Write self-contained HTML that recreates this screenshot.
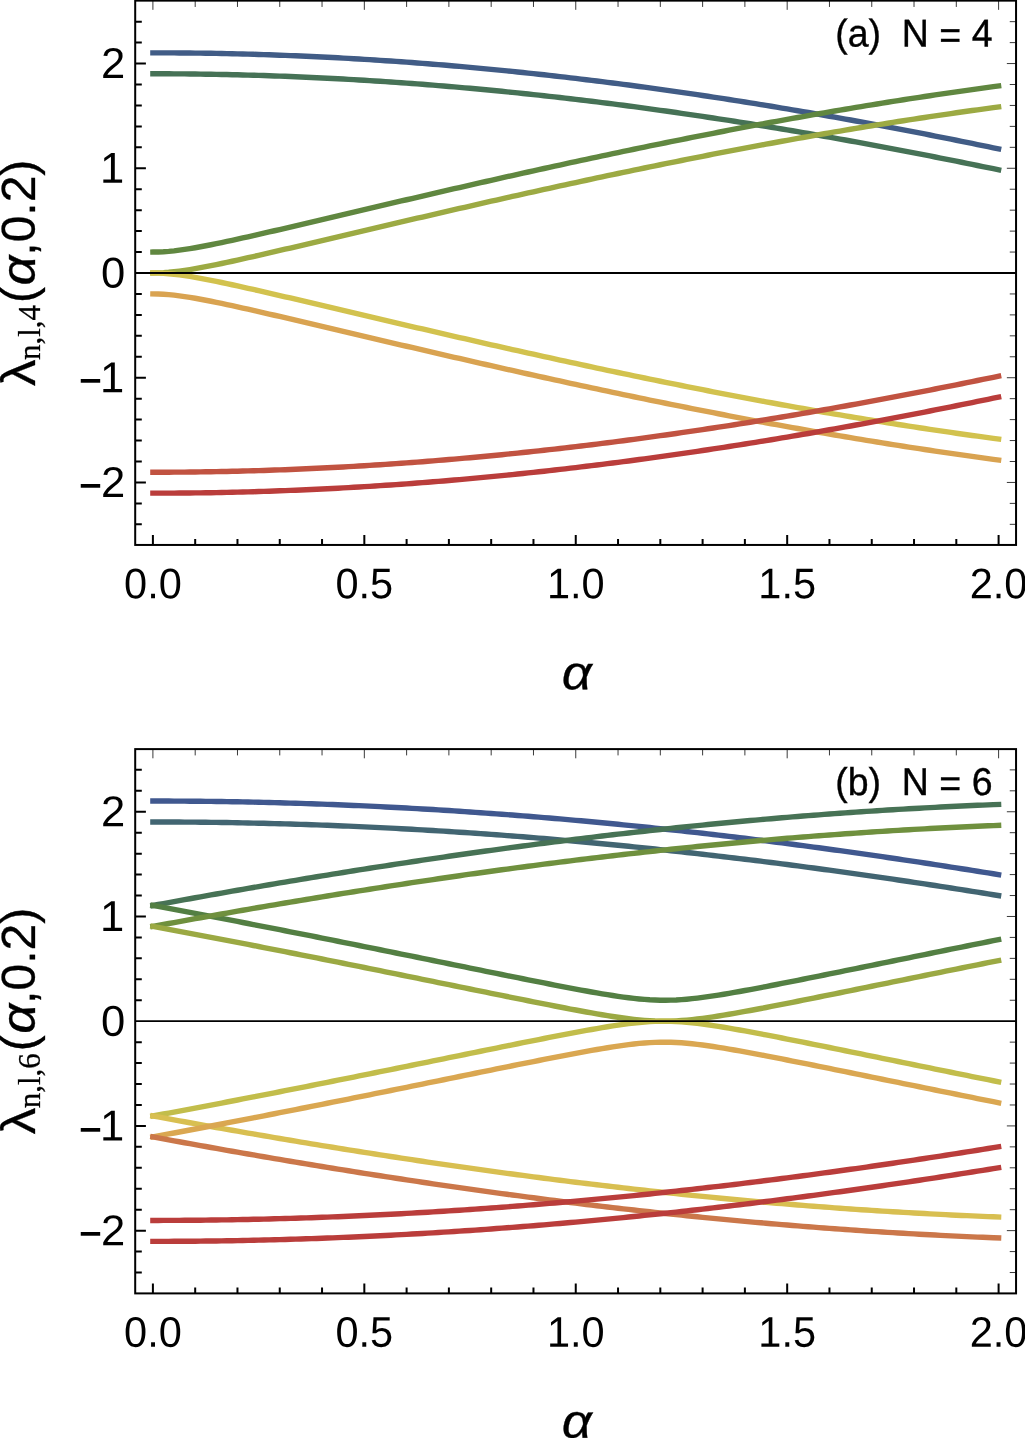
<!DOCTYPE html>
<html><head><meta charset="utf-8"><title>Eigenvalue spectra</title>
<style>
html,body{margin:0;padding:0;background:#fff}
svg{display:block}
text{font-family:"Liberation Sans",sans-serif;fill:#000}
.tk{font-size:41.5px}
.al{font-size:48px;stroke:#000;stroke-width:0.3px}
.pl{font-size:37.5px;stroke:#000;stroke-width:0.35px}

.sb{stroke:#000;stroke-width:0.25px;font-family:"Liberation Serif",serif;font-size:31px}
</style></head><body>
<svg width="1025" height="1438" viewBox="0 0 1025 1438">
<rect width="1025" height="1438" fill="#fff"/>
<polyline points="152.90,52.83 158.19,52.83 163.47,52.84 168.76,52.86 174.04,52.89 179.33,52.93 184.61,52.97 189.90,53.03 195.19,53.09 200.47,53.16 205.76,53.23 211.04,53.32 216.33,53.41 221.61,53.52 226.90,53.63 232.18,53.74 237.47,53.87 242.76,54.01 248.04,54.15 253.33,54.30 258.61,54.46 263.90,54.63 269.18,54.80 274.47,54.98 279.75,55.18 285.04,55.37 290.33,55.58 295.61,55.80 300.90,56.02 306.18,56.25 311.47,56.49 316.75,56.74 322.04,57.00 327.33,57.26 332.61,57.53 337.90,57.81 343.18,58.10 348.47,58.39 353.75,58.70 359.04,59.01 364.33,59.33 369.61,59.66 374.90,59.99 380.18,60.33 385.47,60.69 390.75,61.04 396.04,61.41 401.32,61.79 406.61,62.17 411.90,62.56 417.18,62.96 422.47,63.36 427.75,63.78 433.04,64.20 438.32,64.63 443.61,65.06 448.89,65.51 454.18,65.96 459.47,66.42 464.75,66.89 470.04,67.36 475.32,67.84 480.61,68.33 485.89,68.83 491.18,69.34 496.47,69.85 501.75,70.37 507.04,70.90 512.32,71.43 517.61,71.98 522.89,72.53 528.18,73.08 533.47,73.65 538.75,74.22 544.04,74.80 549.32,75.39 554.61,75.98 559.89,76.58 565.18,77.19 570.46,77.81 575.75,78.43 581.04,79.06 586.32,79.70 591.61,80.34 596.89,80.99 602.18,81.65 607.46,82.32 612.75,82.99 618.04,83.67 623.32,84.35 628.61,85.05 633.89,85.75 639.18,86.46 644.46,87.17 649.75,87.89 655.03,88.62 660.32,89.35 665.61,90.09 670.89,90.84 676.18,91.60 681.46,92.36 686.75,93.13 692.03,93.90 697.32,94.68 702.61,95.47 707.89,96.26 713.18,97.06 718.46,97.87 723.75,98.68 729.03,99.50 734.32,100.33 739.60,101.16 744.89,102.00 750.18,102.84 755.46,103.69 760.75,104.55 766.03,105.41 771.32,106.28 776.60,107.16 781.89,108.04 787.18,108.93 792.46,109.82 797.75,110.72 803.03,111.62 808.32,112.53 813.60,113.45 818.89,114.37 824.17,115.30 829.46,116.23 834.75,117.17 840.03,118.12 845.32,119.07 850.60,120.03 855.89,120.99 861.17,121.95 866.46,122.93 871.75,123.91 877.03,124.89 882.32,125.88 887.60,126.87 892.89,127.87 898.17,128.87 903.46,129.88 908.74,130.90 914.03,131.92 919.32,132.94 924.60,133.97 929.89,135.01 935.17,136.05 940.46,137.09 945.74,138.14 951.03,139.19 956.31,140.25 961.60,141.31 966.89,142.38 972.17,143.45 977.46,144.53 982.74,145.61 988.03,146.70 993.31,147.79 998.60,148.88" fill="none" stroke="#415c86" stroke-width="5.4" stroke-linecap="square" stroke-linejoin="round"/>
<polyline points="152.90,73.77 158.19,73.77 163.47,73.79 168.76,73.81 174.04,73.84 179.33,73.87 184.61,73.92 189.90,73.97 195.19,74.03 200.47,74.10 205.76,74.18 211.04,74.26 216.33,74.36 221.61,74.46 226.90,74.57 232.18,74.69 237.47,74.82 242.76,74.95 248.04,75.09 253.33,75.24 258.61,75.40 263.90,75.57 269.18,75.74 274.47,75.93 279.75,76.12 285.04,76.32 290.33,76.53 295.61,76.74 300.90,76.97 306.18,77.20 311.47,77.44 316.75,77.68 322.04,77.94 327.33,78.20 332.61,78.48 337.90,78.76 343.18,79.04 348.47,79.34 353.75,79.64 359.04,79.95 364.33,80.27 369.61,80.60 374.90,80.94 380.18,81.28 385.47,81.63 390.75,81.99 396.04,82.36 401.32,82.73 406.61,83.11 411.90,83.50 417.18,83.90 422.47,84.31 427.75,84.72 433.04,85.14 438.32,85.57 443.61,86.01 448.89,86.45 454.18,86.90 459.47,87.36 464.75,87.83 470.04,88.31 475.32,88.79 480.61,89.28 485.89,89.78 491.18,90.28 496.47,90.79 501.75,91.31 507.04,91.84 512.32,92.38 517.61,92.92 522.89,93.47 528.18,94.03 533.47,94.59 538.75,95.16 544.04,95.74 549.32,96.33 554.61,96.92 559.89,97.53 565.18,98.13 570.46,98.75 575.75,99.37 581.04,100.00 586.32,100.64 591.61,101.28 596.89,101.94 602.18,102.59 607.46,103.26 612.75,103.93 618.04,104.61 623.32,105.30 628.61,105.99 633.89,106.69 639.18,107.40 644.46,108.11 649.75,108.83 655.03,109.56 660.32,110.30 665.61,111.04 670.89,111.79 676.18,112.54 681.46,113.30 686.75,114.07 692.03,114.84 697.32,115.62 702.61,116.41 707.89,117.21 713.18,118.01 718.46,118.81 723.75,119.63 729.03,120.45 734.32,121.27 739.60,122.10 744.89,122.94 750.18,123.79 755.46,124.64 760.75,125.49 766.03,126.36 771.32,127.23 776.60,128.10 781.89,128.98 787.18,129.87 792.46,130.76 797.75,131.66 803.03,132.57 808.32,133.48 813.60,134.39 818.89,135.32 824.17,136.24 829.46,137.18 834.75,138.12 840.03,139.06 845.32,140.01 850.60,140.97 855.89,141.93 861.17,142.90 866.46,143.87 871.75,144.85 877.03,145.83 882.32,146.82 887.60,147.81 892.89,148.81 898.17,149.82 903.46,150.83 908.74,151.84 914.03,152.86 919.32,153.89 924.60,154.92 929.89,155.95 935.17,156.99 940.46,158.03 945.74,159.08 951.03,160.14 956.31,161.20 961.60,162.26 966.89,163.33 972.17,164.40 977.46,165.48 982.74,166.56 988.03,167.64 993.31,168.73 998.60,169.83" fill="none" stroke="#467256" stroke-width="5.4" stroke-linecap="square" stroke-linejoin="round"/>
<polyline points="152.90,252.06 158.19,251.97 163.47,251.73 168.76,251.34 174.04,250.82 179.33,250.18 184.61,249.44 189.90,248.62 195.19,247.72 200.47,246.77 205.76,245.77 211.04,244.73 216.33,243.66 221.61,242.56 226.90,241.44 232.18,240.30 237.47,239.14 242.76,237.97 248.04,236.79 253.33,235.60 258.61,234.39 263.90,233.19 269.18,231.97 274.47,230.75 279.75,229.52 285.04,228.29 290.33,227.06 295.61,225.83 300.90,224.59 306.18,223.35 311.47,222.11 316.75,220.86 322.04,219.62 327.33,218.38 332.61,217.13 337.90,215.89 343.18,214.64 348.47,213.40 353.75,212.15 359.04,210.91 364.33,209.66 369.61,208.42 374.90,207.18 380.18,205.94 385.47,204.70 390.75,203.46 396.04,202.22 401.32,200.99 406.61,199.75 411.90,198.52 417.18,197.29 422.47,196.06 427.75,194.84 433.04,193.61 438.32,192.39 443.61,191.17 448.89,189.95 454.18,188.74 459.47,187.52 464.75,186.31 470.04,185.10 475.32,183.90 480.61,182.70 485.89,181.50 491.18,180.30 496.47,179.10 501.75,177.91 507.04,176.72 512.32,175.54 517.61,174.36 522.89,173.18 528.18,172.00 533.47,170.83 538.75,169.66 544.04,168.49 549.32,167.33 554.61,166.17 559.89,165.02 565.18,163.87 570.46,162.72 575.75,161.57 581.04,160.43 586.32,159.29 591.61,158.16 596.89,157.03 602.18,155.91 607.46,154.79 612.75,153.67 618.04,152.56 623.32,151.45 628.61,150.34 633.89,149.24 639.18,148.15 644.46,147.06 649.75,145.97 655.03,144.88 660.32,143.81 665.61,142.73 670.89,141.66 676.18,140.60 681.46,139.54 686.75,138.48 692.03,137.43 697.32,136.39 702.61,135.35 707.89,134.31 713.18,133.28 718.46,132.25 723.75,131.23 729.03,130.22 734.32,129.20 739.60,128.20 744.89,127.20 750.18,126.20 755.46,125.21 760.75,124.23 766.03,123.25 771.32,122.27 776.60,121.30 781.89,120.34 787.18,119.38 792.46,118.43 797.75,117.48 803.03,116.54 808.32,115.61 813.60,114.68 818.89,113.75 824.17,112.83 829.46,111.92 834.75,111.01 840.03,110.11 845.32,109.22 850.60,108.33 855.89,107.45 861.17,106.57 866.46,105.70 871.75,104.83 877.03,103.97 882.32,103.12 887.60,102.27 892.89,101.43 898.17,100.60 903.46,99.77 908.74,98.95 914.03,98.13 919.32,97.33 924.60,96.52 929.89,95.73 935.17,94.94 940.46,94.15 945.74,93.38 951.03,92.61 956.31,91.84 961.60,91.09 966.89,90.34 972.17,89.59 977.46,88.86 982.74,88.13 988.03,87.41 993.31,86.69 998.60,85.98" fill="none" stroke="#608740" stroke-width="5.4" stroke-linecap="square" stroke-linejoin="round"/>
<polyline points="152.90,273.00 158.19,272.92 163.47,272.68 168.76,272.29 174.04,271.76 179.33,271.12 184.61,270.38 189.90,269.56 195.19,268.67 200.47,267.71 205.76,266.72 211.04,265.68 216.33,264.61 221.61,263.51 226.90,262.39 232.18,261.24 237.47,260.09 242.76,258.92 248.04,257.73 253.33,256.54 258.61,255.34 263.90,254.13 269.18,252.91 274.47,251.69 279.75,250.47 285.04,249.24 290.33,248.01 295.61,246.77 300.90,245.53 306.18,244.29 311.47,243.05 316.75,241.81 322.04,240.57 327.33,239.32 332.61,238.08 337.90,236.83 343.18,235.59 348.47,234.34 353.75,233.10 359.04,231.85 364.33,230.61 369.61,229.37 374.90,228.12 380.18,226.88 385.47,225.64 390.75,224.40 396.04,223.17 401.32,221.93 406.61,220.70 411.90,219.47 417.18,218.24 422.47,217.01 427.75,215.78 433.04,214.56 438.32,213.33 443.61,212.11 448.89,210.90 454.18,209.68 459.47,208.47 464.75,207.26 470.04,206.05 475.32,204.84 480.61,203.64 485.89,202.44 491.18,201.24 496.47,200.05 501.75,198.86 507.04,197.67 512.32,196.48 517.61,195.30 522.89,194.12 528.18,192.95 533.47,191.77 538.75,190.60 544.04,189.44 549.32,188.28 554.61,187.12 559.89,185.96 565.18,184.81 570.46,183.66 575.75,182.52 581.04,181.38 586.32,180.24 591.61,179.11 596.89,177.98 602.18,176.85 607.46,175.73 612.75,174.61 618.04,173.50 623.32,172.39 628.61,171.29 633.89,170.19 639.18,169.09 644.46,168.00 649.75,166.91 655.03,165.83 660.32,164.75 665.61,163.68 670.89,162.61 676.18,161.54 681.46,160.48 686.75,159.43 692.03,158.38 697.32,157.33 702.61,156.29 707.89,155.25 713.18,154.22 718.46,153.20 723.75,152.18 729.03,151.16 734.32,150.15 739.60,149.14 744.89,148.14 750.18,147.15 755.46,146.16 760.75,145.17 766.03,144.19 771.32,143.22 776.60,142.25 781.89,141.28 787.18,140.33 792.46,139.37 797.75,138.43 803.03,137.49 808.32,136.55 813.60,135.62 818.89,134.70 824.17,133.78 829.46,132.86 834.75,131.96 840.03,131.06 845.32,130.16 850.60,129.27 855.89,128.39 861.17,127.51 866.46,126.64 871.75,125.78 877.03,124.92 882.32,124.06 887.60,123.22 892.89,122.38 898.17,121.54 903.46,120.71 908.74,119.89 914.03,119.08 919.32,118.27 924.60,117.47 929.89,116.67 935.17,115.88 940.46,115.10 945.74,114.32 951.03,113.55 956.31,112.79 961.60,112.03 966.89,111.28 972.17,110.54 977.46,109.80 982.74,109.07 988.03,108.35 993.31,107.63 998.60,106.92" fill="none" stroke="#9caa43" stroke-width="5.4" stroke-linecap="square" stroke-linejoin="round"/>
<polyline points="152.90,273.00 158.19,273.08 163.47,273.32 168.76,273.71 174.04,274.24 179.33,274.88 184.61,275.62 189.90,276.44 195.19,277.33 200.47,278.29 205.76,279.28 211.04,280.32 216.33,281.39 221.61,282.49 226.90,283.61 232.18,284.76 237.47,285.91 242.76,287.08 248.04,288.27 253.33,289.46 258.61,290.66 263.90,291.87 269.18,293.09 274.47,294.31 279.75,295.53 285.04,296.76 290.33,297.99 295.61,299.23 300.90,300.47 306.18,301.71 311.47,302.95 316.75,304.19 322.04,305.43 327.33,306.68 332.61,307.92 337.90,309.17 343.18,310.41 348.47,311.66 353.75,312.90 359.04,314.15 364.33,315.39 369.61,316.63 374.90,317.88 380.18,319.12 385.47,320.36 390.75,321.60 396.04,322.83 401.32,324.07 406.61,325.30 411.90,326.53 417.18,327.76 422.47,328.99 427.75,330.22 433.04,331.44 438.32,332.67 443.61,333.89 448.89,335.10 454.18,336.32 459.47,337.53 464.75,338.74 470.04,339.95 475.32,341.16 480.61,342.36 485.89,343.56 491.18,344.76 496.47,345.95 501.75,347.14 507.04,348.33 512.32,349.52 517.61,350.70 522.89,351.88 528.18,353.05 533.47,354.23 538.75,355.40 544.04,356.56 549.32,357.72 554.61,358.88 559.89,360.04 565.18,361.19 570.46,362.34 575.75,363.48 581.04,364.62 586.32,365.76 591.61,366.89 596.89,368.02 602.18,369.15 607.46,370.27 612.75,371.39 618.04,372.50 623.32,373.61 628.61,374.71 633.89,375.81 639.18,376.91 644.46,378.00 649.75,379.09 655.03,380.17 660.32,381.25 665.61,382.32 670.89,383.39 676.18,384.46 681.46,385.52 686.75,386.57 692.03,387.62 697.32,388.67 702.61,389.71 707.89,390.75 713.18,391.78 718.46,392.80 723.75,393.82 729.03,394.84 734.32,395.85 739.60,396.86 744.89,397.86 750.18,398.85 755.46,399.84 760.75,400.83 766.03,401.81 771.32,402.78 776.60,403.75 781.89,404.72 787.18,405.67 792.46,406.63 797.75,407.57 803.03,408.51 808.32,409.45 813.60,410.38 818.89,411.30 824.17,412.22 829.46,413.14 834.75,414.04 840.03,414.94 845.32,415.84 850.60,416.73 855.89,417.61 861.17,418.49 866.46,419.36 871.75,420.22 877.03,421.08 882.32,421.94 887.60,422.78 892.89,423.62 898.17,424.46 903.46,425.29 908.74,426.11 914.03,426.92 919.32,427.73 924.60,428.53 929.89,429.33 935.17,430.12 940.46,430.90 945.74,431.68 951.03,432.45 956.31,433.21 961.60,433.97 966.89,434.72 972.17,435.46 977.46,436.20 982.74,436.93 988.03,437.65 993.31,438.37 998.60,439.08" fill="none" stroke="#d2c24e" stroke-width="5.4" stroke-linecap="square" stroke-linejoin="round"/>
<polyline points="152.90,293.94 158.19,294.03 163.47,294.27 168.76,294.66 174.04,295.18 179.33,295.82 184.61,296.56 189.90,297.38 195.19,298.28 200.47,299.23 205.76,300.23 211.04,301.27 216.33,302.34 221.61,303.44 226.90,304.56 232.18,305.70 237.47,306.86 242.76,308.03 248.04,309.21 253.33,310.40 258.61,311.61 263.90,312.81 269.18,314.03 274.47,315.25 279.75,316.48 285.04,317.71 290.33,318.94 295.61,320.17 300.90,321.41 306.18,322.65 311.47,323.89 316.75,325.14 322.04,326.38 327.33,327.62 332.61,328.87 337.90,330.11 343.18,331.36 348.47,332.60 353.75,333.85 359.04,335.09 364.33,336.34 369.61,337.58 374.90,338.82 380.18,340.06 385.47,341.30 390.75,342.54 396.04,343.78 401.32,345.01 406.61,346.25 411.90,347.48 417.18,348.71 422.47,349.94 427.75,351.16 433.04,352.39 438.32,353.61 443.61,354.83 448.89,356.05 454.18,357.26 459.47,358.48 464.75,359.69 470.04,360.90 475.32,362.10 480.61,363.30 485.89,364.50 491.18,365.70 496.47,366.90 501.75,368.09 507.04,369.28 512.32,370.46 517.61,371.64 522.89,372.82 528.18,374.00 533.47,375.17 538.75,376.34 544.04,377.51 549.32,378.67 554.61,379.83 559.89,380.98 565.18,382.13 570.46,383.28 575.75,384.43 581.04,385.57 586.32,386.71 591.61,387.84 596.89,388.97 602.18,390.09 607.46,391.21 612.75,392.33 618.04,393.44 623.32,394.55 628.61,395.66 633.89,396.76 639.18,397.85 644.46,398.94 649.75,400.03 655.03,401.12 660.32,402.19 665.61,403.27 670.89,404.34 676.18,405.40 681.46,406.46 686.75,407.52 692.03,408.57 697.32,409.61 702.61,410.65 707.89,411.69 713.18,412.72 718.46,413.75 723.75,414.77 729.03,415.78 734.32,416.80 739.60,417.80 744.89,418.80 750.18,419.80 755.46,420.79 760.75,421.77 766.03,422.75 771.32,423.73 776.60,424.70 781.89,425.66 787.18,426.62 792.46,427.57 797.75,428.52 803.03,429.46 808.32,430.39 813.60,431.32 818.89,432.25 824.17,433.17 829.46,434.08 834.75,434.99 840.03,435.89 845.32,436.78 850.60,437.67 855.89,438.55 861.17,439.43 866.46,440.30 871.75,441.17 877.03,442.03 882.32,442.88 887.60,443.73 892.89,444.57 898.17,445.40 903.46,446.23 908.74,447.05 914.03,447.87 919.32,448.67 924.60,449.48 929.89,450.27 935.17,451.06 940.46,451.85 945.74,452.62 951.03,453.39 956.31,454.16 961.60,454.91 966.89,455.66 972.17,456.41 977.46,457.14 982.74,457.87 988.03,458.59 993.31,459.31 998.60,460.02" fill="none" stroke="#d9a351" stroke-width="5.4" stroke-linecap="square" stroke-linejoin="round"/>
<polyline points="152.90,472.23 158.19,472.23 163.47,472.21 168.76,472.19 174.04,472.16 179.33,472.13 184.61,472.08 189.90,472.03 195.19,471.97 200.47,471.90 205.76,471.82 211.04,471.74 216.33,471.64 221.61,471.54 226.90,471.43 232.18,471.31 237.47,471.18 242.76,471.05 248.04,470.91 253.33,470.76 258.61,470.60 263.90,470.43 269.18,470.26 274.47,470.07 279.75,469.88 285.04,469.68 290.33,469.47 295.61,469.26 300.90,469.03 306.18,468.80 311.47,468.56 316.75,468.32 322.04,468.06 327.33,467.80 332.61,467.52 337.90,467.24 343.18,466.96 348.47,466.66 353.75,466.36 359.04,466.05 364.33,465.73 369.61,465.40 374.90,465.06 380.18,464.72 385.47,464.37 390.75,464.01 396.04,463.64 401.32,463.27 406.61,462.89 411.90,462.50 417.18,462.10 422.47,461.69 427.75,461.28 433.04,460.86 438.32,460.43 443.61,459.99 448.89,459.55 454.18,459.10 459.47,458.64 464.75,458.17 470.04,457.69 475.32,457.21 480.61,456.72 485.89,456.22 491.18,455.72 496.47,455.21 501.75,454.69 507.04,454.16 512.32,453.62 517.61,453.08 522.89,452.53 528.18,451.97 533.47,451.41 538.75,450.84 544.04,450.26 549.32,449.67 554.61,449.08 559.89,448.47 565.18,447.87 570.46,447.25 575.75,446.63 581.04,446.00 586.32,445.36 591.61,444.72 596.89,444.06 602.18,443.41 607.46,442.74 612.75,442.07 618.04,441.39 623.32,440.70 628.61,440.01 633.89,439.31 639.18,438.60 644.46,437.89 649.75,437.17 655.03,436.44 660.32,435.70 665.61,434.96 670.89,434.21 676.18,433.46 681.46,432.70 686.75,431.93 692.03,431.16 697.32,430.38 702.61,429.59 707.89,428.79 713.18,427.99 718.46,427.19 723.75,426.37 729.03,425.55 734.32,424.73 739.60,423.90 744.89,423.06 750.18,422.21 755.46,421.36 760.75,420.51 766.03,419.64 771.32,418.77 776.60,417.90 781.89,417.02 787.18,416.13 792.46,415.24 797.75,414.34 803.03,413.43 808.32,412.52 813.60,411.61 818.89,410.68 824.17,409.76 829.46,408.82 834.75,407.88 840.03,406.94 845.32,405.99 850.60,405.03 855.89,404.07 861.17,403.10 866.46,402.13 871.75,401.15 877.03,400.17 882.32,399.18 887.60,398.19 892.89,397.19 898.17,396.18 903.46,395.17 908.74,394.16 914.03,393.14 919.32,392.11 924.60,391.08 929.89,390.05 935.17,389.01 940.46,387.97 945.74,386.92 951.03,385.86 956.31,384.80 961.60,383.74 966.89,382.67 972.17,381.60 977.46,380.52 982.74,379.44 988.03,378.36 993.31,377.27 998.60,376.17" fill="none" stroke="#c15341" stroke-width="5.4" stroke-linecap="square" stroke-linejoin="round"/>
<polyline points="152.90,493.17 158.19,493.17 163.47,493.16 168.76,493.14 174.04,493.11 179.33,493.07 184.61,493.03 189.90,492.97 195.19,492.91 200.47,492.84 205.76,492.77 211.04,492.68 216.33,492.59 221.61,492.48 226.90,492.37 232.18,492.26 237.47,492.13 242.76,491.99 248.04,491.85 253.33,491.70 258.61,491.54 263.90,491.37 269.18,491.20 274.47,491.02 279.75,490.82 285.04,490.63 290.33,490.42 295.61,490.20 300.90,489.98 306.18,489.75 311.47,489.51 316.75,489.26 322.04,489.00 327.33,488.74 332.61,488.47 337.90,488.19 343.18,487.90 348.47,487.61 353.75,487.30 359.04,486.99 364.33,486.67 369.61,486.34 374.90,486.01 380.18,485.67 385.47,485.31 390.75,484.96 396.04,484.59 401.32,484.21 406.61,483.83 411.90,483.44 417.18,483.04 422.47,482.64 427.75,482.22 433.04,481.80 438.32,481.37 443.61,480.94 448.89,480.49 454.18,480.04 459.47,479.58 464.75,479.11 470.04,478.64 475.32,478.16 480.61,477.67 485.89,477.17 491.18,476.66 496.47,476.15 501.75,475.63 507.04,475.10 512.32,474.57 517.61,474.02 522.89,473.47 528.18,472.92 533.47,472.35 538.75,471.78 544.04,471.20 549.32,470.61 554.61,470.02 559.89,469.42 565.18,468.81 570.46,468.19 575.75,467.57 581.04,466.94 586.32,466.30 591.61,465.66 596.89,465.01 602.18,464.35 607.46,463.68 612.75,463.01 618.04,462.33 623.32,461.65 628.61,460.95 633.89,460.25 639.18,459.54 644.46,458.83 649.75,458.11 655.03,457.38 660.32,456.65 665.61,455.91 670.89,455.16 676.18,454.40 681.46,453.64 686.75,452.87 692.03,452.10 697.32,451.32 702.61,450.53 707.89,449.74 713.18,448.94 718.46,448.13 723.75,447.32 729.03,446.50 734.32,445.67 739.60,444.84 744.89,444.00 750.18,443.16 755.46,442.31 760.75,441.45 766.03,440.59 771.32,439.72 776.60,438.84 781.89,437.96 787.18,437.07 792.46,436.18 797.75,435.28 803.03,434.38 808.32,433.47 813.60,432.55 818.89,431.63 824.17,430.70 829.46,429.77 834.75,428.83 840.03,427.88 845.32,426.93 850.60,425.97 855.89,425.01 861.17,424.05 866.46,423.07 871.75,422.09 877.03,421.11 882.32,420.12 887.60,419.13 892.89,418.13 898.17,417.13 903.46,416.12 908.74,415.10 914.03,414.08 919.32,413.06 924.60,412.03 929.89,410.99 935.17,409.95 940.46,408.91 945.74,407.86 951.03,406.81 956.31,405.75 961.60,404.69 966.89,403.62 972.17,402.55 977.46,401.47 982.74,400.39 988.03,399.30 993.31,398.21 998.60,397.12" fill="none" stroke="#ba3d3b" stroke-width="5.4" stroke-linecap="square" stroke-linejoin="round"/>
<line x1="135.20" y1="273.00" x2="1016.05" y2="273.00" stroke="#000" stroke-width="1.8"/>
<path d="M152.90 544.95V534.95M195.19 544.95V538.95M237.47 544.95V538.95M279.75 544.95V538.95M322.04 544.95V538.95M364.33 544.95V534.95M406.61 544.95V538.95M448.89 544.95V538.95M491.18 544.95V538.95M533.47 544.95V538.95M575.75 544.95V534.95M618.04 544.95V538.95M660.32 544.95V538.95M702.61 544.95V538.95M744.89 544.95V538.95M787.18 544.95V534.95M829.46 544.95V538.95M871.75 544.95V538.95M914.03 544.95V538.95M956.31 544.95V538.95M998.60 544.95V534.95M135.20 524.33H141.80M135.20 503.38H141.80M135.20 482.44H145.90M135.20 461.50H141.80M135.20 440.55H141.80M135.20 419.61H141.80M135.20 398.66H141.80M135.20 377.72H145.90M135.20 356.78H141.80M135.20 335.83H141.80M135.20 314.89H141.80M135.20 293.94H141.80M135.20 252.06H141.80M135.20 231.11H141.80M135.20 210.17H141.80M135.20 189.22H141.80M135.20 168.28H145.90M135.20 147.34H141.80M135.20 126.39H141.80M135.20 105.45H141.80M135.20 84.50H141.80M135.20 63.56H145.90M135.20 42.62H141.80M135.20 21.67H141.80" stroke="#000" stroke-width="2" fill="none"/>
<path d="M152.90 0.64V9.84M195.19 0.64V6.94M237.47 0.64V6.94M279.75 0.64V6.94M322.04 0.64V6.94M364.33 0.64V9.84M406.61 0.64V6.94M448.89 0.64V6.94M491.18 0.64V6.94M533.47 0.64V6.94M575.75 0.64V9.84M618.04 0.64V6.94M660.32 0.64V6.94M702.61 0.64V6.94M744.89 0.64V6.94M787.18 0.64V9.84M829.46 0.64V6.94M871.75 0.64V6.94M914.03 0.64V6.94M956.31 0.64V6.94M998.60 0.64V9.84M1016.05 524.33H1009.75M1016.05 503.38H1009.75M1016.05 482.44H1006.85M1016.05 461.50H1009.75M1016.05 440.55H1009.75M1016.05 419.61H1009.75M1016.05 398.66H1009.75M1016.05 377.72H1006.85M1016.05 356.78H1009.75M1016.05 335.83H1009.75M1016.05 314.89H1009.75M1016.05 293.94H1009.75M1016.05 252.06H1009.75M1016.05 231.11H1009.75M1016.05 210.17H1009.75M1016.05 189.22H1009.75M1016.05 168.28H1006.85M1016.05 147.34H1009.75M1016.05 126.39H1009.75M1016.05 105.45H1009.75M1016.05 84.50H1009.75M1016.05 63.56H1006.85M1016.05 42.62H1009.75M1016.05 21.67H1009.75" stroke="#3a3a3a" stroke-width="1.0" fill="none"/>
<rect x="135.20" y="0.64" width="880.85" height="544.31" fill="none" stroke="#000" stroke-width="2"/>
<g>
<text transform="translate(125.3 78.06) rotate(0.03) scale(1.05 1.04)" text-anchor="end" class="tk">2</text>
</g>
<g>
<text transform="translate(124.2 182.78) rotate(0.03) scale(1.05 1.04)" text-anchor="end" class="tk">1</text>
</g>
<g>
<text transform="translate(125.3 287.50) rotate(0.03) scale(1.05 1.04)" text-anchor="end" class="tk">0</text>
</g>
<g>
<text transform="translate(102.1 399.32) rotate(0.03) scale(0.966 1.31)" text-anchor="end" class="tk">−</text>
<text transform="translate(124.2 392.22) rotate(0.03) scale(1.05 1.04)" text-anchor="end" class="tk">1</text>
</g>
<g>
<text transform="translate(102.1 504.04) rotate(0.03) scale(0.966 1.31)" text-anchor="end" class="tk">−</text>
<text transform="translate(125.3 496.94) rotate(0.03) scale(1.05 1.04)" text-anchor="end" class="tk">2</text>
</g>
<text transform="translate(152.90 598.35) rotate(0.03) scale(1 1.03)" text-anchor="middle" class="tk">0.0</text>
<text transform="translate(364.33 598.35) rotate(0.03) scale(1 1.03)" text-anchor="middle" class="tk">0.5</text>
<text transform="translate(575.75 598.35) rotate(0.03) scale(1 1.03)" text-anchor="middle" class="tk">1.0</text>
<text transform="translate(787.18 598.35) rotate(0.03) scale(1 1.03)" text-anchor="middle" class="tk">1.5</text>
<text transform="translate(998.60 598.35) rotate(0.03) scale(1 1.03)" text-anchor="middle" class="tk">2.0</text>
<text transform="translate(576.9 689.25) rotate(0.03) scale(1.1 1)" text-anchor="middle" class="al" font-style="italic">α</text>
<text transform="translate(835.2 46.44) rotate(0.03) scale(1 1.035)" class="pl" xml:space="preserve">(a)  N <tspan dy="1.6">=</tspan><tspan dy="-1.6"> 4</tspan></text>
<g transform="translate(34.8 386.00) rotate(-90)">
<text transform="scale(1.1 1)" class="al">λ</text>
<text x="25.9" y="5" class="sb">n,l,4</text>
<text x="83" class="al">(</text>
<text transform="translate(100.4 0) scale(1.1 1)" class="al" font-style="italic">α</text>
<text x="130.3" class="al">,0.2)</text>
</g>
<polyline points="152.90,801.03 158.19,801.03 163.47,801.04 168.76,801.05 174.04,801.08 179.33,801.10 184.61,801.14 189.90,801.18 195.19,801.22 200.47,801.27 205.76,801.33 211.04,801.40 216.33,801.47 221.61,801.54 226.90,801.63 232.18,801.72 237.47,801.81 242.76,801.91 248.04,802.02 253.33,802.13 258.61,802.25 263.90,802.38 269.18,802.51 274.47,802.65 279.75,802.79 285.04,802.94 290.33,803.09 295.61,803.26 300.90,803.42 306.18,803.60 311.47,803.78 316.75,803.96 322.04,804.16 327.33,804.35 332.61,804.56 337.90,804.77 343.18,804.98 348.47,805.21 353.75,805.44 359.04,805.67 364.33,805.91 369.61,806.16 374.90,806.41 380.18,806.67 385.47,806.93 390.75,807.20 396.04,807.48 401.32,807.76 406.61,808.05 411.90,808.34 417.18,808.64 422.47,808.95 427.75,809.26 433.04,809.57 438.32,809.90 443.61,810.23 448.89,810.56 454.18,810.90 459.47,811.25 464.75,811.60 470.04,811.96 475.32,812.32 480.61,812.69 485.89,813.07 491.18,813.45 496.47,813.84 501.75,814.23 507.04,814.63 512.32,815.03 517.61,815.44 522.89,815.86 528.18,816.28 533.47,816.71 538.75,817.14 544.04,817.58 549.32,818.02 554.61,818.47 559.89,818.93 565.18,819.39 570.46,819.86 575.75,820.33 581.04,820.81 586.32,821.29 591.61,821.78 596.89,822.27 602.18,822.77 607.46,823.28 612.75,823.79 618.04,824.31 623.32,824.83 628.61,825.35 633.89,825.89 639.18,826.43 644.46,826.97 649.75,827.52 655.03,828.07 660.32,828.63 665.61,829.20 670.89,829.77 676.18,830.34 681.46,830.92 686.75,831.51 692.03,832.10 697.32,832.69 702.61,833.29 707.89,833.90 713.18,834.51 718.46,835.13 723.75,835.75 729.03,836.38 734.32,837.01 739.60,837.65 744.89,838.29 750.18,838.94 755.46,839.59 760.75,840.25 766.03,840.91 771.32,841.58 776.60,842.25 781.89,842.93 787.18,843.61 792.46,844.29 797.75,844.99 803.03,845.68 808.32,846.38 813.60,847.09 818.89,847.80 824.17,848.51 829.46,849.23 834.75,849.96 840.03,850.69 845.32,851.42 850.60,852.16 855.89,852.91 861.17,853.65 866.46,854.41 871.75,855.16 877.03,855.93 882.32,856.69 887.60,857.46 892.89,858.24 898.17,859.02 903.46,859.80 908.74,860.59 914.03,861.38 919.32,862.18 924.60,862.98 929.89,863.79 935.17,864.60 940.46,865.41 945.74,866.23 951.03,867.05 956.31,867.88 961.60,868.71 966.89,869.54 972.17,870.38 977.46,871.22 982.74,872.07 988.03,872.92 993.31,873.78 998.60,874.64" fill="none" stroke="#40588f" stroke-width="5.4" stroke-linecap="square" stroke-linejoin="round"/>
<polyline points="152.90,821.97 158.19,821.97 163.47,821.98 168.76,822.00 174.04,822.02 179.33,822.05 184.61,822.08 189.90,822.12 195.19,822.17 200.47,822.22 205.76,822.28 211.04,822.34 216.33,822.41 221.61,822.49 226.90,822.57 232.18,822.66 237.47,822.75 242.76,822.86 248.04,822.96 253.33,823.08 258.61,823.19 263.90,823.32 269.18,823.45 274.47,823.59 279.75,823.73 285.04,823.88 290.33,824.04 295.61,824.20 300.90,824.37 306.18,824.54 311.47,824.72 316.75,824.91 322.04,825.10 327.33,825.30 332.61,825.50 337.90,825.71 343.18,825.93 348.47,826.15 353.75,826.38 359.04,826.61 364.33,826.85 369.61,827.10 374.90,827.35 380.18,827.61 385.47,827.87 390.75,828.14 396.04,828.42 401.32,828.70 406.61,828.99 411.90,829.28 417.18,829.58 422.47,829.89 427.75,830.20 433.04,830.52 438.32,830.84 443.61,831.17 448.89,831.51 454.18,831.85 459.47,832.19 464.75,832.55 470.04,832.90 475.32,833.27 480.61,833.64 485.89,834.01 491.18,834.40 496.47,834.78 501.75,835.18 507.04,835.57 512.32,835.98 517.61,836.39 522.89,836.80 528.18,837.23 533.47,837.65 538.75,838.09 544.04,838.52 549.32,838.97 554.61,839.42 559.89,839.87 565.18,840.34 570.46,840.80 575.75,841.27 581.04,841.75 586.32,842.23 591.61,842.72 596.89,843.22 602.18,843.72 607.46,844.22 612.75,844.73 618.04,845.25 623.32,845.77 628.61,846.30 633.89,846.83 639.18,847.37 644.46,847.91 649.75,848.46 655.03,849.02 660.32,849.57 665.61,850.14 670.89,850.71 676.18,851.28 681.46,851.86 686.75,852.45 692.03,853.04 697.32,853.64 702.61,854.24 707.89,854.85 713.18,855.46 718.46,856.07 723.75,856.70 729.03,857.32 734.32,857.95 739.60,858.59 744.89,859.23 750.18,859.88 755.46,860.53 760.75,861.19 766.03,861.85 771.32,862.52 776.60,863.19 781.89,863.87 787.18,864.55 792.46,865.24 797.75,865.93 803.03,866.63 808.32,867.33 813.60,868.03 818.89,868.74 824.17,869.46 829.46,870.18 834.75,870.90 840.03,871.63 845.32,872.37 850.60,873.11 855.89,873.85 861.17,874.60 866.46,875.35 871.75,876.11 877.03,876.87 882.32,877.64 887.60,878.41 892.89,879.18 898.17,879.96 903.46,880.74 908.74,881.53 914.03,882.33 919.32,883.12 924.60,883.92 929.89,884.73 935.17,885.54 940.46,886.35 945.74,887.17 951.03,887.99 956.31,888.82 961.60,889.65 966.89,890.49 972.17,891.33 977.46,892.17 982.74,893.02 988.03,893.87 993.31,894.72 998.60,895.58" fill="none" stroke="#426572" stroke-width="5.4" stroke-linecap="square" stroke-linejoin="round"/>
<polyline points="152.90,905.49 158.19,904.51 163.47,903.54 168.76,902.57 174.04,901.60 179.33,900.64 184.61,899.68 189.90,898.72 195.19,897.77 200.47,896.82 205.76,895.87 211.04,894.93 216.33,893.99 221.61,893.05 226.90,892.11 232.18,891.18 237.47,890.26 242.76,889.33 248.04,888.41 253.33,887.50 258.61,886.58 263.90,885.67 269.18,884.77 274.47,883.86 279.75,882.96 285.04,882.07 290.33,881.18 295.61,880.29 300.90,879.41 306.18,878.53 311.47,877.65 316.75,876.78 322.04,875.91 327.33,875.04 332.61,874.18 337.90,873.33 343.18,872.47 348.47,871.62 353.75,870.78 359.04,869.94 364.33,869.10 369.61,868.27 374.90,867.44 380.18,866.62 385.47,865.80 390.75,864.98 396.04,864.17 401.32,863.36 406.61,862.56 411.90,861.76 417.18,860.96 422.47,860.17 427.75,859.39 433.04,858.60 438.32,857.83 443.61,857.05 448.89,856.29 454.18,855.52 459.47,854.76 464.75,854.01 470.04,853.26 475.32,852.51 480.61,851.77 485.89,851.04 491.18,850.30 496.47,849.58 501.75,848.85 507.04,848.14 512.32,847.42 517.61,846.72 522.89,846.01 528.18,845.31 533.47,844.62 538.75,843.93 544.04,843.25 549.32,842.57 554.61,841.89 559.89,841.22 565.18,840.56 570.46,839.90 575.75,839.24 581.04,838.59 586.32,837.95 591.61,837.31 596.89,836.68 602.18,836.05 607.46,835.42 612.75,834.80 618.04,834.19 623.32,833.58 628.61,832.98 633.89,832.38 639.18,831.78 644.46,831.20 649.75,830.61 655.03,830.04 660.32,829.46 665.61,828.90 670.89,828.33 676.18,827.78 681.46,827.23 686.75,826.68 692.03,826.14 697.32,825.61 702.61,825.08 707.89,824.55 713.18,824.03 718.46,823.52 723.75,823.01 729.03,822.51 734.32,822.01 739.60,821.52 744.89,821.04 750.18,820.55 755.46,820.08 760.75,819.61 766.03,819.15 771.32,818.69 776.60,818.24 781.89,817.79 787.18,817.35 792.46,816.91 797.75,816.48 803.03,816.06 808.32,815.64 813.60,815.23 818.89,814.82 824.17,814.42 829.46,814.02 834.75,813.63 840.03,813.25 845.32,812.87 850.60,812.50 855.89,812.13 861.17,811.77 866.46,811.41 871.75,811.07 877.03,810.72 882.32,810.38 887.60,810.05 892.89,809.73 898.17,809.41 903.46,809.09 908.74,808.78 914.03,808.48 919.32,808.18 924.60,807.89 929.89,807.61 935.17,807.33 940.46,807.06 945.74,806.79 951.03,806.53 956.31,806.27 961.60,806.03 966.89,805.78 972.17,805.55 977.46,805.31 982.74,805.09 988.03,804.87 993.31,804.66 998.60,804.45" fill="none" stroke="#477255" stroke-width="5.4" stroke-linecap="square" stroke-linejoin="round"/>
<polyline points="152.90,905.49 158.19,906.46 163.47,907.45 168.76,908.43 174.04,909.42 179.33,910.41 184.61,911.40 189.90,912.39 195.19,913.39 200.47,914.39 205.76,915.40 211.04,916.40 216.33,917.41 221.61,918.42 226.90,919.44 232.18,920.45 237.47,921.47 242.76,922.49 248.04,923.52 253.33,924.54 258.61,925.57 263.90,926.60 269.18,927.63 274.47,928.67 279.75,929.71 285.04,930.75 290.33,931.79 295.61,932.83 300.90,933.88 306.18,934.92 311.47,935.97 316.75,937.02 322.04,938.08 327.33,939.13 332.61,940.19 337.90,941.24 343.18,942.30 348.47,943.36 353.75,944.43 359.04,945.49 364.33,946.56 369.61,947.62 374.90,948.69 380.18,949.76 385.47,950.83 390.75,951.90 396.04,952.98 401.32,954.05 406.61,955.12 411.90,956.20 417.18,957.27 422.47,958.35 427.75,959.43 433.04,960.51 438.32,961.58 443.61,962.66 448.89,963.74 454.18,964.82 459.47,965.90 464.75,966.97 470.04,968.05 475.32,969.13 480.61,970.21 485.89,971.28 491.18,972.35 496.47,973.43 501.75,974.50 507.04,975.57 512.32,976.64 517.61,977.70 522.89,978.76 528.18,979.82 533.47,980.87 538.75,981.92 544.04,982.97 549.32,984.01 554.61,985.04 559.89,986.06 565.18,987.08 570.46,988.09 575.75,989.08 581.04,990.06 586.32,991.03 591.61,991.97 596.89,992.90 602.18,993.80 607.46,994.68 612.75,995.52 618.04,996.32 623.32,997.07 628.61,997.77 633.89,998.40 639.18,998.96 644.46,999.43 649.75,999.81 655.03,1000.07 660.32,1000.22 665.61,1000.25 670.89,1000.16 676.18,999.95 681.46,999.62 686.75,999.19 692.03,998.68 697.32,998.08 702.61,997.41 707.89,996.68 713.18,995.90 718.46,995.08 723.75,994.22 729.03,993.33 734.32,992.41 739.60,991.48 744.89,990.52 750.18,989.54 755.46,988.56 760.75,987.56 766.03,986.54 771.32,985.52 776.60,984.49 781.89,983.46 787.18,982.42 792.46,981.37 797.75,980.32 803.03,979.26 808.32,978.20 813.60,977.14 818.89,976.07 824.17,975.00 829.46,973.93 834.75,972.86 840.03,971.79 845.32,970.71 850.60,969.64 855.89,968.56 861.17,967.48 866.46,966.41 871.75,965.33 877.03,964.25 882.32,963.17 887.60,962.09 892.89,961.01 898.17,959.94 903.46,958.86 908.74,957.78 914.03,956.71 919.32,955.63 924.60,954.56 929.89,953.48 935.17,952.41 940.46,951.34 945.74,950.27 951.03,949.20 956.31,948.13 961.60,947.06 966.89,945.99 972.17,944.93 977.46,943.87 982.74,942.80 988.03,941.74 993.31,940.69 998.60,939.63" fill="none" stroke="#537f43" stroke-width="5.4" stroke-linecap="square" stroke-linejoin="round"/>
<polyline points="152.90,926.43 158.19,925.45 163.47,924.48 168.76,923.51 174.04,922.55 179.33,921.58 184.61,920.62 189.90,919.67 195.19,918.71 200.47,917.76 205.76,916.81 211.04,915.87 216.33,914.93 221.61,913.99 226.90,913.06 232.18,912.13 237.47,911.20 242.76,910.28 248.04,909.36 253.33,908.44 258.61,907.53 263.90,906.62 269.18,905.71 274.47,904.81 279.75,903.91 285.04,903.01 290.33,902.12 295.61,901.23 300.90,900.35 306.18,899.47 311.47,898.59 316.75,897.72 322.04,896.85 327.33,895.99 332.61,895.13 337.90,894.27 343.18,893.42 348.47,892.57 353.75,891.72 359.04,890.88 364.33,890.05 369.61,889.21 374.90,888.38 380.18,887.56 385.47,886.74 390.75,885.92 396.04,885.11 401.32,884.30 406.61,883.50 411.90,882.70 417.18,881.91 422.47,881.12 427.75,880.33 433.04,879.55 438.32,878.77 443.61,878.00 448.89,877.23 454.18,876.47 459.47,875.71 464.75,874.95 470.04,874.20 475.32,873.46 480.61,872.72 485.89,871.98 491.18,871.25 496.47,870.52 501.75,869.80 507.04,869.08 512.32,868.37 517.61,867.66 522.89,866.96 528.18,866.26 533.47,865.56 538.75,864.87 544.04,864.19 549.32,863.51 554.61,862.84 559.89,862.17 565.18,861.50 570.46,860.84 575.75,860.19 581.04,859.54 586.32,858.89 591.61,858.25 596.89,857.62 602.18,856.99 607.46,856.37 612.75,855.75 618.04,855.13 623.32,854.52 628.61,853.92 633.89,853.32 639.18,852.73 644.46,852.14 649.75,851.56 655.03,850.98 660.32,850.41 665.61,849.84 670.89,849.28 676.18,848.72 681.46,848.17 686.75,847.63 692.03,847.08 697.32,846.55 702.61,846.02 707.89,845.50 713.18,844.98 718.46,844.46 723.75,843.96 729.03,843.45 734.32,842.96 739.60,842.46 744.89,841.98 750.18,841.50 755.46,841.02 760.75,840.55 766.03,840.09 771.32,839.63 776.60,839.18 781.89,838.73 787.18,838.29 792.46,837.86 797.75,837.43 803.03,837.00 808.32,836.58 813.60,836.17 818.89,835.76 824.17,835.36 829.46,834.97 834.75,834.58 840.03,834.19 845.32,833.81 850.60,833.44 855.89,833.08 861.17,832.71 866.46,832.36 871.75,832.01 877.03,831.67 882.32,831.33 887.60,831.00 892.89,830.67 898.17,830.35 903.46,830.04 908.74,829.73 914.03,829.42 919.32,829.13 924.60,828.84 929.89,828.55 935.17,828.27 940.46,828.00 945.74,827.73 951.03,827.47 956.31,827.22 961.60,826.97 966.89,826.73 972.17,826.49 977.46,826.26 982.74,826.03 988.03,825.81 993.31,825.60 998.60,825.39" fill="none" stroke="#6f903e" stroke-width="5.4" stroke-linecap="square" stroke-linejoin="round"/>
<polyline points="152.90,926.43 158.19,927.41 163.47,928.39 168.76,929.37 174.04,930.36 179.33,931.35 184.61,932.34 189.90,933.34 195.19,934.34 200.47,935.34 205.76,936.34 211.04,937.35 216.33,938.36 221.61,939.37 226.90,940.38 232.18,941.40 237.47,942.42 242.76,943.44 248.04,944.46 253.33,945.49 258.61,946.52 263.90,947.55 269.18,948.58 274.47,949.61 279.75,950.65 285.04,951.69 290.33,952.73 295.61,953.77 300.90,954.82 306.18,955.87 311.47,956.92 316.75,957.97 322.04,959.02 327.33,960.07 332.61,961.13 337.90,962.19 343.18,963.25 348.47,964.31 353.75,965.37 359.04,966.44 364.33,967.50 369.61,968.57 374.90,969.64 380.18,970.70 385.47,971.78 390.75,972.85 396.04,973.92 401.32,974.99 406.61,976.07 411.90,977.14 417.18,978.22 422.47,979.29 427.75,980.37 433.04,981.45 438.32,982.53 443.61,983.61 448.89,984.68 454.18,985.76 459.47,986.84 464.75,987.92 470.04,989.00 475.32,990.07 480.61,991.15 485.89,992.22 491.18,993.30 496.47,994.37 501.75,995.44 507.04,996.51 512.32,997.58 517.61,998.64 522.89,999.71 528.18,1000.76 533.47,1001.82 538.75,1002.87 544.04,1003.91 549.32,1004.95 554.61,1005.98 559.89,1007.01 565.18,1008.02 570.46,1009.03 575.75,1010.02 581.04,1011.01 586.32,1011.97 591.61,1012.92 596.89,1013.85 602.18,1014.75 607.46,1015.62 612.75,1016.46 618.04,1017.26 623.32,1018.01 628.61,1018.71 633.89,1019.35 639.18,1019.90 644.46,1020.38 649.75,1020.75 655.03,1021.02 660.32,1021.17 665.61,1021.20 670.89,1021.10 676.18,1020.89 681.46,1020.57 686.75,1020.14 692.03,1019.62 697.32,1019.02 702.61,1018.35 707.89,1017.62 713.18,1016.84 718.46,1016.02 723.75,1015.16 729.03,1014.27 734.32,1013.36 739.60,1012.42 744.89,1011.46 750.18,1010.49 755.46,1009.50 760.75,1008.50 766.03,1007.49 771.32,1006.47 776.60,1005.44 781.89,1004.40 787.18,1003.36 792.46,1002.31 797.75,1001.26 803.03,1000.20 808.32,999.14 813.60,998.08 818.89,997.02 824.17,995.95 829.46,994.88 834.75,993.81 840.03,992.73 845.32,991.66 850.60,990.58 855.89,989.50 861.17,988.43 866.46,987.35 871.75,986.27 877.03,985.19 882.32,984.11 887.60,983.04 892.89,981.96 898.17,980.88 903.46,979.80 908.74,978.73 914.03,977.65 919.32,976.57 924.60,975.50 929.89,974.43 935.17,973.35 940.46,972.28 945.74,971.21 951.03,970.14 956.31,969.07 961.60,968.00 966.89,966.94 972.17,965.87 977.46,964.81 982.74,963.75 988.03,962.69 993.31,961.63 998.60,960.57" fill="none" stroke="#9ba943" stroke-width="5.4" stroke-linecap="square" stroke-linejoin="round"/>
<polyline points="152.90,1115.97 158.19,1114.99 163.47,1114.01 168.76,1113.03 174.04,1112.04 179.33,1111.05 184.61,1110.06 189.90,1109.06 195.19,1108.06 200.47,1107.06 205.76,1106.06 211.04,1105.05 216.33,1104.04 221.61,1103.03 226.90,1102.02 232.18,1101.00 237.47,1099.98 242.76,1098.96 248.04,1097.94 253.33,1096.91 258.61,1095.88 263.90,1094.85 269.18,1093.82 274.47,1092.79 279.75,1091.75 285.04,1090.71 290.33,1089.67 295.61,1088.63 300.90,1087.58 306.18,1086.53 311.47,1085.48 316.75,1084.43 322.04,1083.38 327.33,1082.33 332.61,1081.27 337.90,1080.21 343.18,1079.15 348.47,1078.09 353.75,1077.03 359.04,1075.96 364.33,1074.90 369.61,1073.83 374.90,1072.76 380.18,1071.70 385.47,1070.62 390.75,1069.55 396.04,1068.48 401.32,1067.41 406.61,1066.33 411.90,1065.26 417.18,1064.18 422.47,1063.11 427.75,1062.03 433.04,1060.95 438.32,1059.87 443.61,1058.79 448.89,1057.72 454.18,1056.64 459.47,1055.56 464.75,1054.48 470.04,1053.40 475.32,1052.33 480.61,1051.25 485.89,1050.18 491.18,1049.10 496.47,1048.03 501.75,1046.96 507.04,1045.89 512.32,1044.82 517.61,1043.76 522.89,1042.69 528.18,1041.64 533.47,1040.58 538.75,1039.53 544.04,1038.49 549.32,1037.45 554.61,1036.42 559.89,1035.39 565.18,1034.38 570.46,1033.37 575.75,1032.38 581.04,1031.39 586.32,1030.43 591.61,1029.48 596.89,1028.55 602.18,1027.65 607.46,1026.78 612.75,1025.94 618.04,1025.14 623.32,1024.39 628.61,1023.69 633.89,1023.05 639.18,1022.50 644.46,1022.02 649.75,1021.65 655.03,1021.38 660.32,1021.23 665.61,1021.20 670.89,1021.30 676.18,1021.51 681.46,1021.83 686.75,1022.26 692.03,1022.78 697.32,1023.38 702.61,1024.05 707.89,1024.78 713.18,1025.56 718.46,1026.38 723.75,1027.24 729.03,1028.13 734.32,1029.04 739.60,1029.98 744.89,1030.94 750.18,1031.91 755.46,1032.90 760.75,1033.90 766.03,1034.91 771.32,1035.93 776.60,1036.96 781.89,1038.00 787.18,1039.04 792.46,1040.09 797.75,1041.14 803.03,1042.20 808.32,1043.26 813.60,1044.32 818.89,1045.38 824.17,1046.45 829.46,1047.52 834.75,1048.59 840.03,1049.67 845.32,1050.74 850.60,1051.82 855.89,1052.90 861.17,1053.97 866.46,1055.05 871.75,1056.13 877.03,1057.21 882.32,1058.29 887.60,1059.36 892.89,1060.44 898.17,1061.52 903.46,1062.60 908.74,1063.67 914.03,1064.75 919.32,1065.83 924.60,1066.90 929.89,1067.97 935.17,1069.05 940.46,1070.12 945.74,1071.19 951.03,1072.26 956.31,1073.33 961.60,1074.40 966.89,1075.46 972.17,1076.53 977.46,1077.59 982.74,1078.65 988.03,1079.71 993.31,1080.77 998.60,1081.83" fill="none" stroke="#c2bd4b" stroke-width="5.4" stroke-linecap="square" stroke-linejoin="round"/>
<polyline points="152.90,1115.97 158.19,1116.95 163.47,1117.92 168.76,1118.89 174.04,1119.85 179.33,1120.82 184.61,1121.78 189.90,1122.73 195.19,1123.69 200.47,1124.64 205.76,1125.59 211.04,1126.53 216.33,1127.47 221.61,1128.41 226.90,1129.34 232.18,1130.27 237.47,1131.20 242.76,1132.12 248.04,1133.04 253.33,1133.96 258.61,1134.87 263.90,1135.78 269.18,1136.69 274.47,1137.59 279.75,1138.49 285.04,1139.39 290.33,1140.28 295.61,1141.17 300.90,1142.05 306.18,1142.93 311.47,1143.81 316.75,1144.68 322.04,1145.55 327.33,1146.41 332.61,1147.27 337.90,1148.13 343.18,1148.98 348.47,1149.83 353.75,1150.68 359.04,1151.52 364.33,1152.35 369.61,1153.19 374.90,1154.02 380.18,1154.84 385.47,1155.66 390.75,1156.48 396.04,1157.29 401.32,1158.10 406.61,1158.90 411.90,1159.70 417.18,1160.49 422.47,1161.28 427.75,1162.07 433.04,1162.85 438.32,1163.63 443.61,1164.40 448.89,1165.17 454.18,1165.93 459.47,1166.69 464.75,1167.45 470.04,1168.20 475.32,1168.94 480.61,1169.68 485.89,1170.42 491.18,1171.15 496.47,1171.88 501.75,1172.60 507.04,1173.32 512.32,1174.03 517.61,1174.74 522.89,1175.44 528.18,1176.14 533.47,1176.84 538.75,1177.53 544.04,1178.21 549.32,1178.89 554.61,1179.56 559.89,1180.23 565.18,1180.90 570.46,1181.56 575.75,1182.21 581.04,1182.86 586.32,1183.51 591.61,1184.15 596.89,1184.78 602.18,1185.41 607.46,1186.03 612.75,1186.65 618.04,1187.27 623.32,1187.88 628.61,1188.48 633.89,1189.08 639.18,1189.67 644.46,1190.26 649.75,1190.84 655.03,1191.42 660.32,1191.99 665.61,1192.56 670.89,1193.12 676.18,1193.68 681.46,1194.23 686.75,1194.77 692.03,1195.32 697.32,1195.85 702.61,1196.38 707.89,1196.90 713.18,1197.42 718.46,1197.94 723.75,1198.44 729.03,1198.95 734.32,1199.44 739.60,1199.94 744.89,1200.42 750.18,1200.90 755.46,1201.38 760.75,1201.85 766.03,1202.31 771.32,1202.77 776.60,1203.22 781.89,1203.67 787.18,1204.11 792.46,1204.54 797.75,1204.97 803.03,1205.40 808.32,1205.82 813.60,1206.23 818.89,1206.64 824.17,1207.04 829.46,1207.43 834.75,1207.82 840.03,1208.21 845.32,1208.59 850.60,1208.96 855.89,1209.32 861.17,1209.69 866.46,1210.04 871.75,1210.39 877.03,1210.73 882.32,1211.07 887.60,1211.40 892.89,1211.73 898.17,1212.05 903.46,1212.36 908.74,1212.67 914.03,1212.98 919.32,1213.27 924.60,1213.56 929.89,1213.85 935.17,1214.13 940.46,1214.40 945.74,1214.67 951.03,1214.93 956.31,1215.18 961.60,1215.43 966.89,1215.67 972.17,1215.91 977.46,1216.14 982.74,1216.37 988.03,1216.59 993.31,1216.80 998.60,1217.01" fill="none" stroke="#d8bf51" stroke-width="5.4" stroke-linecap="square" stroke-linejoin="round"/>
<polyline points="152.90,1136.91 158.19,1135.94 163.47,1134.95 168.76,1133.97 174.04,1132.98 179.33,1131.99 184.61,1131.00 189.90,1130.01 195.19,1129.01 200.47,1128.01 205.76,1127.00 211.04,1126.00 216.33,1124.99 221.61,1123.98 226.90,1122.96 232.18,1121.95 237.47,1120.93 242.76,1119.91 248.04,1118.88 253.33,1117.86 258.61,1116.83 263.90,1115.80 269.18,1114.77 274.47,1113.73 279.75,1112.69 285.04,1111.65 290.33,1110.61 295.61,1109.57 300.90,1108.52 306.18,1107.48 311.47,1106.43 316.75,1105.38 322.04,1104.32 327.33,1103.27 332.61,1102.21 337.90,1101.16 343.18,1100.10 348.47,1099.04 353.75,1097.97 359.04,1096.91 364.33,1095.84 369.61,1094.78 374.90,1093.71 380.18,1092.64 385.47,1091.57 390.75,1090.50 396.04,1089.42 401.32,1088.35 406.61,1087.28 411.90,1086.20 417.18,1085.13 422.47,1084.05 427.75,1082.97 433.04,1081.89 438.32,1080.82 443.61,1079.74 448.89,1078.66 454.18,1077.58 459.47,1076.50 464.75,1075.43 470.04,1074.35 475.32,1073.27 480.61,1072.19 485.89,1071.12 491.18,1070.05 496.47,1068.97 501.75,1067.90 507.04,1066.83 512.32,1065.76 517.61,1064.70 522.89,1063.64 528.18,1062.58 533.47,1061.53 538.75,1060.48 544.04,1059.43 549.32,1058.39 554.61,1057.36 559.89,1056.34 565.18,1055.32 570.46,1054.31 575.75,1053.32 581.04,1052.34 586.32,1051.37 591.61,1050.43 596.89,1049.50 602.18,1048.60 607.46,1047.72 612.75,1046.88 618.04,1046.08 623.32,1045.33 628.61,1044.63 633.89,1044.00 639.18,1043.44 644.46,1042.97 649.75,1042.59 655.03,1042.33 660.32,1042.18 665.61,1042.15 670.89,1042.24 676.18,1042.45 681.46,1042.78 686.75,1043.21 692.03,1043.72 697.32,1044.32 702.61,1044.99 707.89,1045.72 713.18,1046.50 718.46,1047.32 723.75,1048.18 729.03,1049.07 734.32,1049.99 739.60,1050.92 744.89,1051.88 750.18,1052.86 755.46,1053.84 760.75,1054.84 766.03,1055.86 771.32,1056.88 776.60,1057.91 781.89,1058.94 787.18,1059.98 792.46,1061.03 797.75,1062.08 803.03,1063.14 808.32,1064.20 813.60,1065.26 818.89,1066.33 824.17,1067.40 829.46,1068.47 834.75,1069.54 840.03,1070.61 845.32,1071.69 850.60,1072.76 855.89,1073.84 861.17,1074.92 866.46,1075.99 871.75,1077.07 877.03,1078.15 882.32,1079.23 887.60,1080.31 892.89,1081.39 898.17,1082.46 903.46,1083.54 908.74,1084.62 914.03,1085.69 919.32,1086.77 924.60,1087.84 929.89,1088.92 935.17,1089.99 940.46,1091.06 945.74,1092.13 951.03,1093.20 956.31,1094.27 961.60,1095.34 966.89,1096.41 972.17,1097.47 977.46,1098.53 982.74,1099.60 988.03,1100.66 993.31,1101.71 998.60,1102.77" fill="none" stroke="#daa751" stroke-width="5.4" stroke-linecap="square" stroke-linejoin="round"/>
<polyline points="152.90,1136.91 158.19,1137.89 163.47,1138.86 168.76,1139.83 174.04,1140.80 179.33,1141.76 184.61,1142.72 189.90,1143.68 195.19,1144.63 200.47,1145.58 205.76,1146.53 211.04,1147.47 216.33,1148.41 221.61,1149.35 226.90,1150.29 232.18,1151.22 237.47,1152.14 242.76,1153.07 248.04,1153.99 253.33,1154.90 258.61,1155.82 263.90,1156.73 269.18,1157.63 274.47,1158.54 279.75,1159.44 285.04,1160.33 290.33,1161.22 295.61,1162.11 300.90,1162.99 306.18,1163.87 311.47,1164.75 316.75,1165.62 322.04,1166.49 327.33,1167.36 332.61,1168.22 337.90,1169.07 343.18,1169.93 348.47,1170.78 353.75,1171.62 359.04,1172.46 364.33,1173.30 369.61,1174.13 374.90,1174.96 380.18,1175.78 385.47,1176.60 390.75,1177.42 396.04,1178.23 401.32,1179.04 406.61,1179.84 411.90,1180.64 417.18,1181.44 422.47,1182.23 427.75,1183.01 433.04,1183.80 438.32,1184.57 443.61,1185.35 448.89,1186.11 454.18,1186.88 459.47,1187.64 464.75,1188.39 470.04,1189.14 475.32,1189.89 480.61,1190.63 485.89,1191.36 491.18,1192.10 496.47,1192.82 501.75,1193.55 507.04,1194.26 512.32,1194.98 517.61,1195.68 522.89,1196.39 528.18,1197.09 533.47,1197.78 538.75,1198.47 544.04,1199.15 549.32,1199.83 554.61,1200.51 559.89,1201.18 565.18,1201.84 570.46,1202.50 575.75,1203.16 581.04,1203.81 586.32,1204.45 591.61,1205.09 596.89,1205.72 602.18,1206.35 607.46,1206.98 612.75,1207.60 618.04,1208.21 623.32,1208.82 628.61,1209.42 633.89,1210.02 639.18,1210.62 644.46,1211.20 649.75,1211.79 655.03,1212.36 660.32,1212.94 665.61,1213.50 670.89,1214.07 676.18,1214.62 681.46,1215.17 686.75,1215.72 692.03,1216.26 697.32,1216.79 702.61,1217.32 707.89,1217.85 713.18,1218.37 718.46,1218.88 723.75,1219.39 729.03,1219.89 734.32,1220.39 739.60,1220.88 744.89,1221.36 750.18,1221.85 755.46,1222.32 760.75,1222.79 766.03,1223.25 771.32,1223.71 776.60,1224.16 781.89,1224.61 787.18,1225.05 792.46,1225.49 797.75,1225.92 803.03,1226.34 808.32,1226.76 813.60,1227.17 818.89,1227.58 824.17,1227.98 829.46,1228.38 834.75,1228.77 840.03,1229.15 845.32,1229.53 850.60,1229.90 855.89,1230.27 861.17,1230.63 866.46,1230.99 871.75,1231.33 877.03,1231.68 882.32,1232.02 887.60,1232.35 892.89,1232.67 898.17,1232.99 903.46,1233.31 908.74,1233.62 914.03,1233.92 919.32,1234.22 924.60,1234.51 929.89,1234.79 935.17,1235.07 940.46,1235.34 945.74,1235.61 951.03,1235.87 956.31,1236.13 961.60,1236.37 966.89,1236.62 972.17,1236.85 977.46,1237.09 982.74,1237.31 988.03,1237.53 993.31,1237.74 998.60,1237.95" fill="none" stroke="#cb774a" stroke-width="5.4" stroke-linecap="square" stroke-linejoin="round"/>
<polyline points="152.90,1220.43 158.19,1220.43 163.47,1220.42 168.76,1220.40 174.04,1220.38 179.33,1220.35 184.61,1220.32 189.90,1220.28 195.19,1220.23 200.47,1220.18 205.76,1220.12 211.04,1220.06 216.33,1219.99 221.61,1219.91 226.90,1219.83 232.18,1219.74 237.47,1219.65 242.76,1219.54 248.04,1219.44 253.33,1219.32 258.61,1219.21 263.90,1219.08 269.18,1218.95 274.47,1218.81 279.75,1218.67 285.04,1218.52 290.33,1218.36 295.61,1218.20 300.90,1218.03 306.18,1217.86 311.47,1217.68 316.75,1217.49 322.04,1217.30 327.33,1217.10 332.61,1216.90 337.90,1216.69 343.18,1216.47 348.47,1216.25 353.75,1216.02 359.04,1215.79 364.33,1215.55 369.61,1215.30 374.90,1215.05 380.18,1214.79 385.47,1214.53 390.75,1214.26 396.04,1213.98 401.32,1213.70 406.61,1213.41 411.90,1213.12 417.18,1212.82 422.47,1212.51 427.75,1212.20 433.04,1211.88 438.32,1211.56 443.61,1211.23 448.89,1210.89 454.18,1210.55 459.47,1210.21 464.75,1209.85 470.04,1209.50 475.32,1209.13 480.61,1208.76 485.89,1208.39 491.18,1208.00 496.47,1207.62 501.75,1207.22 507.04,1206.83 512.32,1206.42 517.61,1206.01 522.89,1205.60 528.18,1205.17 533.47,1204.75 538.75,1204.31 544.04,1203.88 549.32,1203.43 554.61,1202.98 559.89,1202.53 565.18,1202.06 570.46,1201.60 575.75,1201.13 581.04,1200.65 586.32,1200.17 591.61,1199.68 596.89,1199.18 602.18,1198.68 607.46,1198.18 612.75,1197.67 618.04,1197.15 623.32,1196.63 628.61,1196.10 633.89,1195.57 639.18,1195.03 644.46,1194.49 649.75,1193.94 655.03,1193.38 660.32,1192.83 665.61,1192.26 670.89,1191.69 676.18,1191.12 681.46,1190.54 686.75,1189.95 692.03,1189.36 697.32,1188.76 702.61,1188.16 707.89,1187.55 713.18,1186.94 718.46,1186.33 723.75,1185.70 729.03,1185.08 734.32,1184.45 739.60,1183.81 744.89,1183.17 750.18,1182.52 755.46,1181.87 760.75,1181.21 766.03,1180.55 771.32,1179.88 776.60,1179.21 781.89,1178.53 787.18,1177.85 792.46,1177.16 797.75,1176.47 803.03,1175.77 808.32,1175.07 813.60,1174.37 818.89,1173.66 824.17,1172.94 829.46,1172.22 834.75,1171.50 840.03,1170.77 845.32,1170.03 850.60,1169.29 855.89,1168.55 861.17,1167.80 866.46,1167.05 871.75,1166.29 877.03,1165.53 882.32,1164.76 887.60,1163.99 892.89,1163.22 898.17,1162.44 903.46,1161.66 908.74,1160.87 914.03,1160.07 919.32,1159.28 924.60,1158.48 929.89,1157.67 935.17,1156.86 940.46,1156.05 945.74,1155.23 951.03,1154.41 956.31,1153.58 961.60,1152.75 966.89,1151.91 972.17,1151.07 977.46,1150.23 982.74,1149.38 988.03,1148.53 993.31,1147.68 998.60,1146.82" fill="none" stroke="#ba3d3b" stroke-width="5.4" stroke-linecap="square" stroke-linejoin="round"/>
<polyline points="152.90,1241.37 158.19,1241.37 163.47,1241.36 168.76,1241.35 174.04,1241.32 179.33,1241.30 184.61,1241.26 189.90,1241.22 195.19,1241.18 200.47,1241.13 205.76,1241.07 211.04,1241.00 216.33,1240.93 221.61,1240.86 226.90,1240.77 232.18,1240.68 237.47,1240.59 242.76,1240.49 248.04,1240.38 253.33,1240.27 258.61,1240.15 263.90,1240.02 269.18,1239.89 274.47,1239.75 279.75,1239.61 285.04,1239.46 290.33,1239.31 295.61,1239.14 300.90,1238.98 306.18,1238.80 311.47,1238.62 316.75,1238.44 322.04,1238.24 327.33,1238.05 332.61,1237.84 337.90,1237.63 343.18,1237.42 348.47,1237.19 353.75,1236.96 359.04,1236.73 364.33,1236.49 369.61,1236.24 374.90,1235.99 380.18,1235.73 385.47,1235.47 390.75,1235.20 396.04,1234.92 401.32,1234.64 406.61,1234.35 411.90,1234.06 417.18,1233.76 422.47,1233.45 427.75,1233.14 433.04,1232.83 438.32,1232.50 443.61,1232.17 448.89,1231.84 454.18,1231.50 459.47,1231.15 464.75,1230.80 470.04,1230.44 475.32,1230.08 480.61,1229.71 485.89,1229.33 491.18,1228.95 496.47,1228.56 501.75,1228.17 507.04,1227.77 512.32,1227.37 517.61,1226.96 522.89,1226.54 528.18,1226.12 533.47,1225.69 538.75,1225.26 544.04,1224.82 549.32,1224.38 554.61,1223.93 559.89,1223.47 565.18,1223.01 570.46,1222.54 575.75,1222.07 581.04,1221.59 586.32,1221.11 591.61,1220.62 596.89,1220.13 602.18,1219.63 607.46,1219.12 612.75,1218.61 618.04,1218.09 623.32,1217.57 628.61,1217.05 633.89,1216.51 639.18,1215.97 644.46,1215.43 649.75,1214.88 655.03,1214.33 660.32,1213.77 665.61,1213.20 670.89,1212.63 676.18,1212.06 681.46,1211.48 686.75,1210.89 692.03,1210.30 697.32,1209.71 702.61,1209.11 707.89,1208.50 713.18,1207.89 718.46,1207.27 723.75,1206.65 729.03,1206.02 734.32,1205.39 739.60,1204.75 744.89,1204.11 750.18,1203.46 755.46,1202.81 760.75,1202.15 766.03,1201.49 771.32,1200.82 776.60,1200.15 781.89,1199.47 787.18,1198.79 792.46,1198.11 797.75,1197.41 803.03,1196.72 808.32,1196.02 813.60,1195.31 818.89,1194.60 824.17,1193.89 829.46,1193.17 834.75,1192.44 840.03,1191.71 845.32,1190.98 850.60,1190.24 855.89,1189.49 861.17,1188.75 866.46,1187.99 871.75,1187.24 877.03,1186.47 882.32,1185.71 887.60,1184.94 892.89,1184.16 898.17,1183.38 903.46,1182.60 908.74,1181.81 914.03,1181.02 919.32,1180.22 924.60,1179.42 929.89,1178.61 935.17,1177.80 940.46,1176.99 945.74,1176.17 951.03,1175.35 956.31,1174.52 961.60,1173.69 966.89,1172.86 972.17,1172.02 977.46,1171.18 982.74,1170.33 988.03,1169.48 993.31,1168.62 998.60,1167.76" fill="none" stroke="#ba3d3b" stroke-width="5.4" stroke-linecap="square" stroke-linejoin="round"/>
<line x1="135.20" y1="1021.20" x2="1016.05" y2="1021.20" stroke="#000" stroke-width="1.8"/>
<path d="M152.90 1293.40V1283.40M195.19 1293.40V1287.40M237.47 1293.40V1287.40M279.75 1293.40V1287.40M322.04 1293.40V1287.40M364.33 1293.40V1283.40M406.61 1293.40V1287.40M448.89 1293.40V1287.40M491.18 1293.40V1287.40M533.47 1293.40V1287.40M575.75 1293.40V1283.40M618.04 1293.40V1287.40M660.32 1293.40V1287.40M702.61 1293.40V1287.40M744.89 1293.40V1287.40M787.18 1293.40V1283.40M829.46 1293.40V1287.40M871.75 1293.40V1287.40M914.03 1293.40V1287.40M956.31 1293.40V1287.40M998.60 1293.40V1283.40M135.20 1272.53H141.80M135.20 1251.58H141.80M135.20 1230.64H145.90M135.20 1209.70H141.80M135.20 1188.75H141.80M135.20 1167.81H141.80M135.20 1146.86H141.80M135.20 1125.92H145.90M135.20 1104.98H141.80M135.20 1084.03H141.80M135.20 1063.09H141.80M135.20 1042.14H141.80M135.20 1000.26H141.80M135.20 979.31H141.80M135.20 958.37H141.80M135.20 937.42H141.80M135.20 916.48H145.90M135.20 895.54H141.80M135.20 874.59H141.80M135.20 853.65H141.80M135.20 832.70H141.80M135.20 811.76H145.90M135.20 790.82H141.80M135.20 769.87H141.80" stroke="#000" stroke-width="2" fill="none"/>
<path d="M152.90 749.10V758.30M195.19 749.10V755.40M237.47 749.10V755.40M279.75 749.10V755.40M322.04 749.10V755.40M364.33 749.10V758.30M406.61 749.10V755.40M448.89 749.10V755.40M491.18 749.10V755.40M533.47 749.10V755.40M575.75 749.10V758.30M618.04 749.10V755.40M660.32 749.10V755.40M702.61 749.10V755.40M744.89 749.10V755.40M787.18 749.10V758.30M829.46 749.10V755.40M871.75 749.10V755.40M914.03 749.10V755.40M956.31 749.10V755.40M998.60 749.10V758.30M1016.05 1272.53H1009.75M1016.05 1251.58H1009.75M1016.05 1230.64H1006.85M1016.05 1209.70H1009.75M1016.05 1188.75H1009.75M1016.05 1167.81H1009.75M1016.05 1146.86H1009.75M1016.05 1125.92H1006.85M1016.05 1104.98H1009.75M1016.05 1084.03H1009.75M1016.05 1063.09H1009.75M1016.05 1042.14H1009.75M1016.05 1000.26H1009.75M1016.05 979.31H1009.75M1016.05 958.37H1009.75M1016.05 937.42H1009.75M1016.05 916.48H1006.85M1016.05 895.54H1009.75M1016.05 874.59H1009.75M1016.05 853.65H1009.75M1016.05 832.70H1009.75M1016.05 811.76H1006.85M1016.05 790.82H1009.75M1016.05 769.87H1009.75" stroke="#3a3a3a" stroke-width="1.0" fill="none"/>
<rect x="135.20" y="749.10" width="880.85" height="544.30" fill="none" stroke="#000" stroke-width="2"/>
<g>
<text transform="translate(125.3 826.26) rotate(0.03) scale(1.05 1.04)" text-anchor="end" class="tk">2</text>
</g>
<g>
<text transform="translate(124.2 930.98) rotate(0.03) scale(1.05 1.04)" text-anchor="end" class="tk">1</text>
</g>
<g>
<text transform="translate(125.3 1035.70) rotate(0.03) scale(1.05 1.04)" text-anchor="end" class="tk">0</text>
</g>
<g>
<text transform="translate(102.1 1147.52) rotate(0.03) scale(0.966 1.31)" text-anchor="end" class="tk">−</text>
<text transform="translate(124.2 1140.42) rotate(0.03) scale(1.05 1.04)" text-anchor="end" class="tk">1</text>
</g>
<g>
<text transform="translate(102.1 1252.24) rotate(0.03) scale(0.966 1.31)" text-anchor="end" class="tk">−</text>
<text transform="translate(125.3 1245.14) rotate(0.03) scale(1.05 1.04)" text-anchor="end" class="tk">2</text>
</g>
<text transform="translate(152.90 1346.80) rotate(0.03) scale(1 1.03)" text-anchor="middle" class="tk">0.0</text>
<text transform="translate(364.33 1346.80) rotate(0.03) scale(1 1.03)" text-anchor="middle" class="tk">0.5</text>
<text transform="translate(575.75 1346.80) rotate(0.03) scale(1 1.03)" text-anchor="middle" class="tk">1.0</text>
<text transform="translate(787.18 1346.80) rotate(0.03) scale(1 1.03)" text-anchor="middle" class="tk">1.5</text>
<text transform="translate(998.60 1346.80) rotate(0.03) scale(1 1.03)" text-anchor="middle" class="tk">2.0</text>
<text transform="translate(576.9 1437.70) rotate(0.03) scale(1.1 1)" text-anchor="middle" class="al" font-style="italic">α</text>
<text transform="translate(835.2 794.90) rotate(0.03) scale(1 1.035)" class="pl" xml:space="preserve">(b)  N <tspan dy="1.6">=</tspan><tspan dy="-1.6"> 6</tspan></text>
<g transform="translate(34.8 1134.20) rotate(-90)">
<text transform="scale(1.1 1)" class="al">λ</text>
<text x="25.9" y="5" class="sb">n,l,6</text>
<text x="83" class="al">(</text>
<text transform="translate(100.4 0) scale(1.1 1)" class="al" font-style="italic">α</text>
<text x="130.3" class="al">,0.2)</text>
</g>
</svg>
</body></html>
